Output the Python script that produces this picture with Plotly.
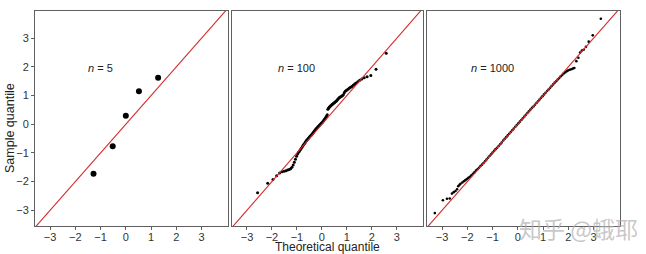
import plotly.graph_objects as go

# ---------------- data ----------------
# n = 5
theo_5 = [-1.28, -0.52, 0.00, 0.52, 1.28]
samp_5 = [-1.73, -0.77, 0.30, 1.15, 1.62]

# n = 100 (theoretical normal quantiles and read sample quantiles)
theo_100 = [-2.576, -2.170, -1.960, -1.812, -1.695, -1.598, -1.514, -1.440, -1.372, -1.311,
            -1.254, -1.200, -1.150, -1.103, -1.058, -1.015, -0.974, -0.935, -0.896, -0.860,
            -0.824, -0.789, -0.755, -0.722, -0.690, -0.659, -0.628, -0.598, -0.568, -0.539,
            -0.510, -0.482, -0.454, -0.426, -0.399, -0.372, -0.345, -0.319, -0.292, -0.266,
            -0.240, -0.215, -0.189, -0.164, -0.138, -0.113, -0.088, -0.063, -0.038, -0.013,
            0.013, 0.038, 0.063, 0.088, 0.113, 0.138, 0.164, 0.189, 0.215, 0.240,
            0.266, 0.292, 0.319, 0.345, 0.372, 0.399, 0.426, 0.454, 0.482, 0.510,
            0.539, 0.568, 0.598, 0.628, 0.659, 0.690, 0.722, 0.755, 0.789, 0.824,
            0.860, 0.896, 0.935, 0.974, 1.015, 1.058, 1.103, 1.150, 1.200, 1.254,
            1.311, 1.372, 1.440, 1.514, 1.598, 1.695, 1.812, 1.960, 2.170, 2.576]
samp_100 = [-2.39, -2.06, -1.93, -1.80, -1.70, -1.66, -1.64, -1.62, -1.60, -1.58,
            -1.55, -1.50, -1.42, -1.33, -1.22, -1.12, -1.04, -0.98, -0.93, -0.89,
            -0.84, -0.79, -0.74, -0.70, -0.66, -0.62, -0.58, -0.55, -0.52, -0.49,
            -0.46, -0.43, -0.40, -0.38, -0.35, -0.32, -0.29, -0.26, -0.23, -0.20,
            -0.17, -0.15, -0.12, -0.10, -0.07, -0.05, -0.03, 0.00, 0.02, 0.04,
            0.06, 0.09, 0.12, 0.15, 0.18, 0.21, 0.25, 0.29, 0.33, 0.52,
            0.56, 0.59, 0.62, 0.64, 0.66, 0.68, 0.70, 0.72, 0.74, 0.76,
            0.78, 0.80, 0.83, 0.86, 0.89, 0.92, 0.94, 0.96, 0.98, 1.00,
            1.03, 1.10, 1.15, 1.18, 1.20, 1.23, 1.26, 1.29, 1.32, 1.36,
            1.40, 1.44, 1.48, 1.53, 1.58, 1.62, 1.66, 1.70, 1.92, 2.48]

# n = 1000 (tails plus a dense read of the body)
theo_1000 = [-3.29, -2.97, -2.81, -2.70, -2.61, -2.54, -2.47, -2.41, -2.36, -2.31, -2.27,
             -2.20, -2.14, -2.08, -2.02, -1.96, -1.90, -1.84, -1.78, -1.72, -1.66,
             -1.60, -1.54, -1.48, -1.42, -1.36, -1.30, -1.24, -1.18, -1.12, -1.06,
             -1.00, -0.94, -0.88, -0.82, -0.76, -0.70, -0.64, -0.58, -0.52, -0.46,
             -0.40, -0.34, -0.28, -0.22, -0.16, -0.10, -0.04, 0.02, 0.08, 0.14,
             0.20, 0.26, 0.32, 0.38, 0.44, 0.50, 0.56, 0.62, 0.68, 0.74,
             0.80, 0.86, 0.92, 0.98, 1.04, 1.10, 1.16, 1.22, 1.28, 1.34,
             1.40, 1.46, 1.52, 1.58, 1.64, 1.70, 1.76, 1.82, 1.88, 1.94,
             2.00, 2.06, 2.12, 2.18, 2.24,
             2.32, 2.40, 2.47, 2.54, 2.61, 2.70, 2.81, 2.97, 3.29]
samp_1000 = [-3.10, -2.65, -2.60, -2.59, -2.42, -2.37, -2.33, -2.27, -2.16, -2.11, -2.08,
             -2.03, -1.99, -1.95, -1.91, -1.87, -1.83, -1.78, -1.73, -1.68, -1.62,
             -1.57, -1.52, -1.46, -1.41, -1.35, -1.29, -1.23, -1.17, -1.11, -1.05,
             -0.99, -0.93, -0.87, -0.82, -0.76, -0.70, -0.64, -0.57, -0.51, -0.45,
             -0.39, -0.33, -0.27, -0.21, -0.15, -0.09, -0.03, 0.03, 0.09, 0.15,
             0.21, 0.27, 0.33, 0.39, 0.45, 0.51, 0.57, 0.62, 0.68, 0.74,
             0.80, 0.86, 0.92, 0.98, 1.04, 1.10, 1.16, 1.21, 1.27, 1.33,
             1.39, 1.45, 1.50, 1.56, 1.61, 1.67, 1.72, 1.77, 1.81, 1.85,
             1.88, 1.90, 1.92, 1.94, 1.96,
             2.20, 2.32, 2.50, 2.57, 2.60, 2.70, 2.88, 3.10, 3.68]

ref_line = [-4.5, 4.5]
panel_labels = ["<i>n</i> = 5", "<i>n</i> = 100", "<i>n</i> = 1000"]
tick_vals = [-3, -2, -1, 0, 1, 2, 3]

# ---------------- figure ----------------
W, H = 646, 254
fig = go.Figure()

panels = [(theo_5, samp_5, 6), (theo_100, samp_100, 3), (theo_1000, samp_1000, 2.6)]
x_px = [(35, 228), (232, 423), (427, 620)]
y_top, y_bot = 11, 226
RED = "#d42a2a"
FRAME = "#606060"
FONT = "Liberation Sans, Arial"

for i, (tx, sy, ms) in enumerate(panels):
    xa = "x" if i == 0 else f"x{i+1}"
    ya = "y" if i == 0 else f"y{i+1}"
    fig.add_trace(go.Scatter(x=tx, y=sy, mode="markers", xaxis=xa, yaxis=ya,
                             marker=dict(color="black", size=ms, line=dict(width=0)),
                             showlegend=False, hoverinfo="skip"))
    fig.add_trace(go.Scatter(x=ref_line, y=ref_line, mode="lines", xaxis=xa, yaxis=ya,
                             line=dict(color=RED, width=1.1),
                             showlegend=False, hoverinfo="skip"))
    fig.add_annotation(x=-1.0, y=1.95, xref=xa, yref=ya, text=panel_labels[i],
                       xanchor="center", yanchor="middle", showarrow=False,
                       font=dict(family=FONT, size=11, color="#222"))

layout = {}
for i, (l, r) in enumerate(x_px):
    suffix = "" if i == 0 else str(i + 1)
    layout["xaxis" + suffix] = dict(
        domain=[l / W, r / W], range=[-3.6, 4.05], anchor="y" + suffix,
        tickvals=tick_vals, ticks="outside", ticklen=3, tickwidth=1, tickcolor=FRAME,
        ticklabelstandoff=-2,
        showline=True, linecolor=FRAME, linewidth=1, mirror=True,
        showgrid=False, zeroline=False,
        tickfont=dict(family=FONT, size=11, color="#333"),
    )
    layout["yaxis" + suffix] = dict(
        domain=[1 - y_bot / H, 1 - y_top / H], range=[-3.55, 3.95], anchor="x" + suffix,
        tickvals=tick_vals if i == 0 else [], ticks="outside" if i == 0 else "",
        ticklen=3, tickwidth=1, tickcolor=FRAME, showticklabels=(i == 0),
        showline=True, linecolor=FRAME, linewidth=1, mirror=True,
        showgrid=False, zeroline=False,
        tickfont=dict(family=FONT, size=11, color="#333"),
    )

fig.update_layout(
    width=W, height=H, margin=dict(l=0, r=0, t=0, b=0),
    paper_bgcolor="white", plot_bgcolor="white", **layout,
)

fig.add_annotation(x=327 / W, y=1 - 246.5 / H, xref="paper", yref="paper",
                   xanchor="center", yanchor="middle",
                   text="Theoretical quantile", showarrow=False,
                   font=dict(family=FONT, size=12, color="#222"))
fig.add_annotation(x=10 / W, y=1 - 128 / H, xref="paper", yref="paper",
                   xanchor="center", yanchor="middle",
                   text="Sample quantile", showarrow=False, textangle=-90,
                   font=dict(family=FONT, size=12.5, color="#222"))
fig.add_annotation(x=578 / W, y=1 - 228 / H, xref="paper", yref="paper",
                   xanchor="center", yanchor="middle",
                   text="知乎 @蛾耶", showarrow=False,
                   font=dict(family="Noto Sans CJK SC", size=23, color="rgba(175,175,175,0.7)"))

fig.write_html("out.html")
